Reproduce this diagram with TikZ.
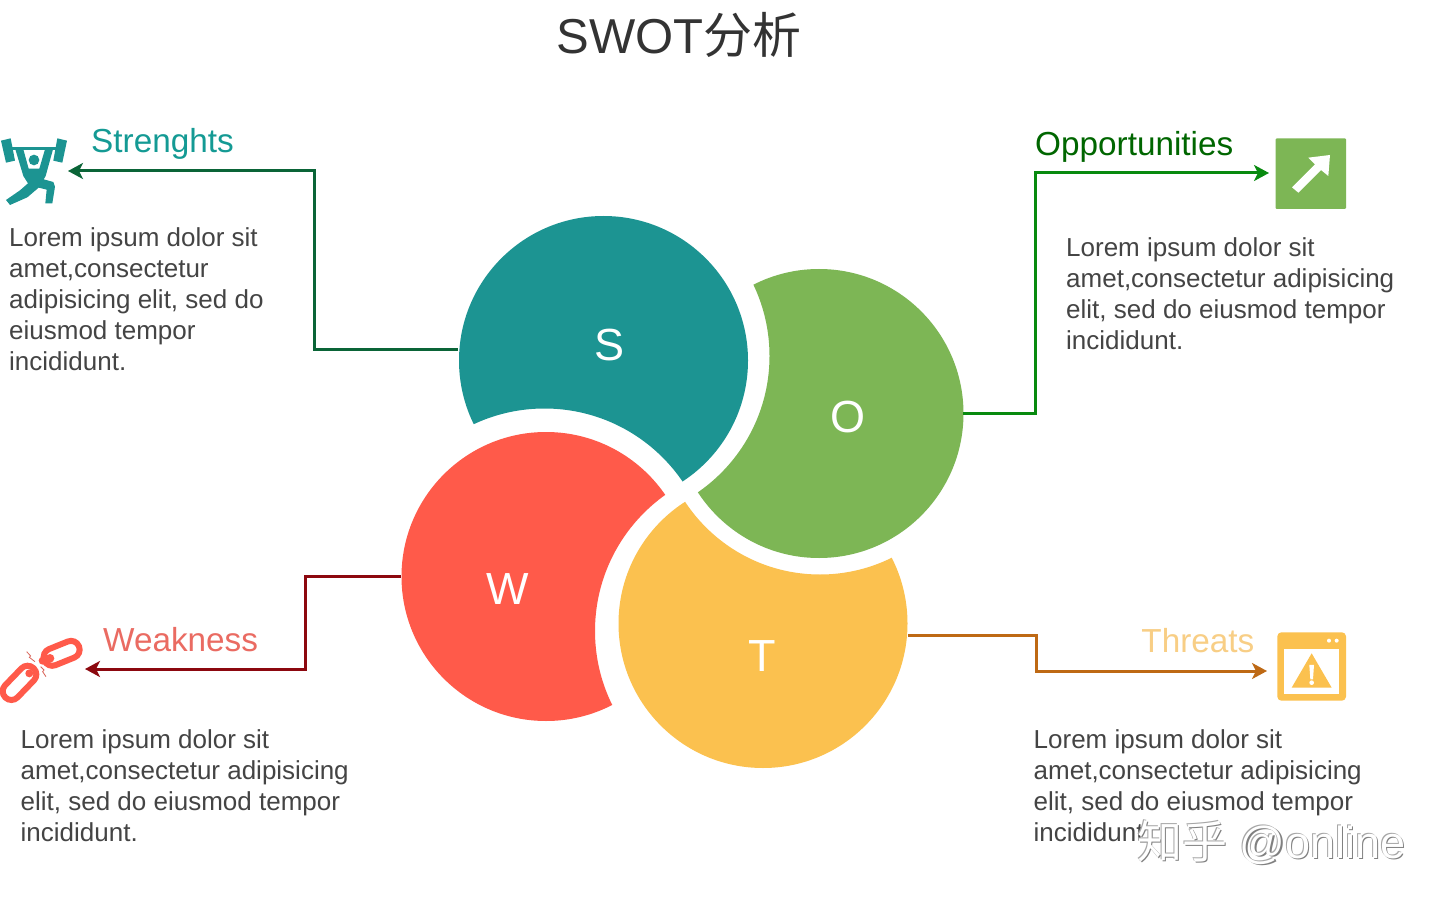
\documentclass[tikz,border=0pt]{standalone}
\usepackage{fontspec}
\setmainfont{Liberation Sans}
\newfontfamily\cjk{Noto Sans CJK SC}
\definecolor{cS}{HTML}{1C9492}
\definecolor{cO}{HTML}{7DB655}
\definecolor{cW}{HTML}{FF5A4A}
\definecolor{cT}{HTML}{FBC14F}
\definecolor{body}{HTML}{444444}
\usetikzlibrary{arrows.meta}
\tikzset{
  bodytext/.style={anchor=north west,inner sep=0pt,align=left,text=body,font=\fontsize{26}{31}\selectfont},
  label/.style={anchor=base west,inner sep=0pt,font=\fontsize{33.3}{36}\selectfont},
  letter/.style={inner sep=0pt,text=white,font=\fontsize{45}{50}\selectfont},
  conn/.style={line width=3pt,-{Stealth[length=15pt,width=16pt,inset=4pt]}},
  wm/.style={anchor=base west,inner sep=0pt,font=\fontsize{45}{48}\selectfont},
}
\newcommand{\petal}[5]{% colour, own centre, cutter x, y, r
  \begin{scope}[even odd rule]
    \clip (0,0) rectangle (1440,901) (#3,#4) circle (#5);
    \fill[#1] (#2) circle (144.5);
  \end{scope}}
\begin{document}
\begin{tikzpicture}[x=1pt,y=-1pt]
\useasboundingbox (0,0) rectangle (1440,901);
\fill[white] (0,0) rectangle (1440,901);
% centres
\coordinate (Sc) at (603.5,360.5);
\coordinate (Oc) at (819,413.5);
\coordinate (Tc) at (763,623.5);
\coordinate (Wc) at (546,576.5);
\petal{cS}{Sc}{544.5}{575.5}{167}
\petal{cO}{Oc}{604}{356}{165.5}
\petal{cT}{Tc}{820}{413}{161.5}
\petal{cW}{Wc}{762}{631}{167}
\node[letter] (S) at (609,345) {S};
\node[letter] (O) at (847.5,417) {O};
\node[letter] (W) at (508,589) {W};
\node[letter] (T) at (762,656) {T};
% title
\node[inner sep=0pt,anchor=base,text=black!80,font=\fontsize{49}{52}\selectfont] (title) at (679,54) {SWOT{\cjk 分析}};
% labels
\node[label,text={rgb,255:red,20;green,154;blue,148}] (ls) at (91,153) {Strenghts};
\node[label,text=green!40!black] (lo) at (1035,156) {Opportunities};
\node[label,text={rgb,255:red,234;green,107;blue,98}] (lw) at (103,651) {Weakness};
\node[label,anchor=base east,text={rgb,255:red,248;green,206;blue,133}] (lt) at (1254.5,652) {Threats};
% body
\node[bodytext] (bs) at (9,227) {Lorem ipsum dolor sit\\amet,consectetur\\adipisicing elit, sed do\\eiusmod tempor\\incididunt.};
\node[bodytext] (bo) at (1066,237) {Lorem ipsum dolor sit\\amet,consectetur adipisicing\\elit, sed do eiusmod tempor\\incididunt.};
\node[bodytext] (bw) at (20.5,729) {Lorem ipsum dolor sit\\amet,consectetur adipisicing\\elit, sed do eiusmod tempor\\incididunt.};
\node[bodytext] (bt) at (1033.5,729) {Lorem ipsum dolor sit\\amet,consectetur adipisicing\\elit, sed do eiusmod tempor\\incididunt.};
% connectors
\coordinate (sa) at (458,349); \coordinate (sb) at (314,349); \coordinate (sc) at (314,171); \coordinate (sd) at (68,171);
\coordinate (oa) at (963,413); \coordinate (ob) at (1035,413); \coordinate (oc) at (1035,173); \coordinate (od) at (1269,173);
\coordinate (wa) at (401,576); \coordinate (wb) at (305,576); \coordinate (wc) at (305,669); \coordinate (wd) at (85,669);
\coordinate (ta) at (908,635); \coordinate (tb) at (1036,635); \coordinate (tc) at (1036,671); \coordinate (td) at (1267,671);
\draw[conn,color={rgb,255:red,10;green,100;blue,55}] (sa)--(sb)--(sc)--(sd);
\draw[conn,color={rgb,255:red,8;green,138;blue,15}] (oa)--(ob)--(oc)--(od);
\draw[conn,color={rgb,255:red,140;green,8;blue,15}] (wa)--(wb)--(wc)--(wd);
\draw[conn,color={rgb,255:red,190;green,105;blue,20}] (ta)--(tb)--(tc)--(td);
% weightlifter icon
\begin{scope}[shift={(0,120)},x=0.3333pt,y=-0.3333pt]
  \fill[cS] (3,62)--(32,55)--(45,122)--(18,128)--cycle;
  \fill[cS] (172,55)--(201,62)--(187,128)--(160,122)--cycle;
  \draw[cS,line width=2.8pt] (30,85)--(170,85);
  \fill[cS] (102,120) circle (16);
  \fill[cS] (46,88)--(70,88)--(86,146)--(118,146)--(135,88)--(159,88)--(137,168)--(131,178)
     --(160,186)--(165,200)--(157,250)--(136,250)--(140,209)--(116,203)--(82,232)--(30,255)--(18,240)--(60,211)--(84,190)--(70,168)--cycle;
\end{scope}
% chain icon
\begin{scope}[shift={(0,620)},x=0.3333pt,y=-0.3333pt]
  \begin{scope}[shift={(185,100)},rotate=22]
    \draw[cW,line width=6pt,rounded corners=8.5pt] (-56,-26) rectangle (56,26);
  \end{scope}
  \begin{scope}[shift={(62,185)},rotate=46]
    \draw[cW,line width=6pt,rounded corners=8.5pt] (-66,-26) rectangle (56,26);
  \end{scope}
  \fill[cW] (150,115) circle (13) (128,122) circle (12);
  \fill[cW] (88,160) circle (12);
  \draw[cW!70!gray,line width=0.8pt] (80,95) -- (92,108) -- (88,112) -- (105,125);
  \draw[cW!70!gray,line width=0.8pt] (122,140) -- (132,150) -- (128,155) -- (138,170);
\end{scope}
% arrow icon
\begin{scope}[shift={(1240,120)},x=0.3333pt,y=-0.3333pt]
  \fill[cO,rounded corners=1pt] (107,55) rectangle (318,267);
  \fill[white] (270,105)--(205,113)--(225,133)--(156,202)--(175,218)--(243,150)--(265,168)--cycle;
\end{scope}
% warning icon
\begin{scope}[shift={(1240,620)},x=0.3333pt,y=-0.3333pt]
  \fill[cT,rounded corners=4pt] (112,37) rectangle (318,242);
  \fill[white] (133,87) rectangle (298,222);
  \fill[cT] (215,100)--(275,203)--(155,203)--cycle;
  \fill[white] (208,135)--(222,135)--(219,178)--(211,178)--cycle;
  \fill[white] (215,188) circle (7);
  \fill[white] (267,62) circle (6) (290,62) circle (6);
\end{scope}
% watermark
\node[wm,text=black!50] (wmb) at (1138.5,859.5) {{\cjk 知乎} @online};
\node[wm,text=black!35] (wmc) at (1136.2,857.2) {{\cjk 知乎} @online};
\node[wm,text=white] (wmf) at (1137,858) {{\cjk 知乎} @online};
\end{tikzpicture}
\end{document}
